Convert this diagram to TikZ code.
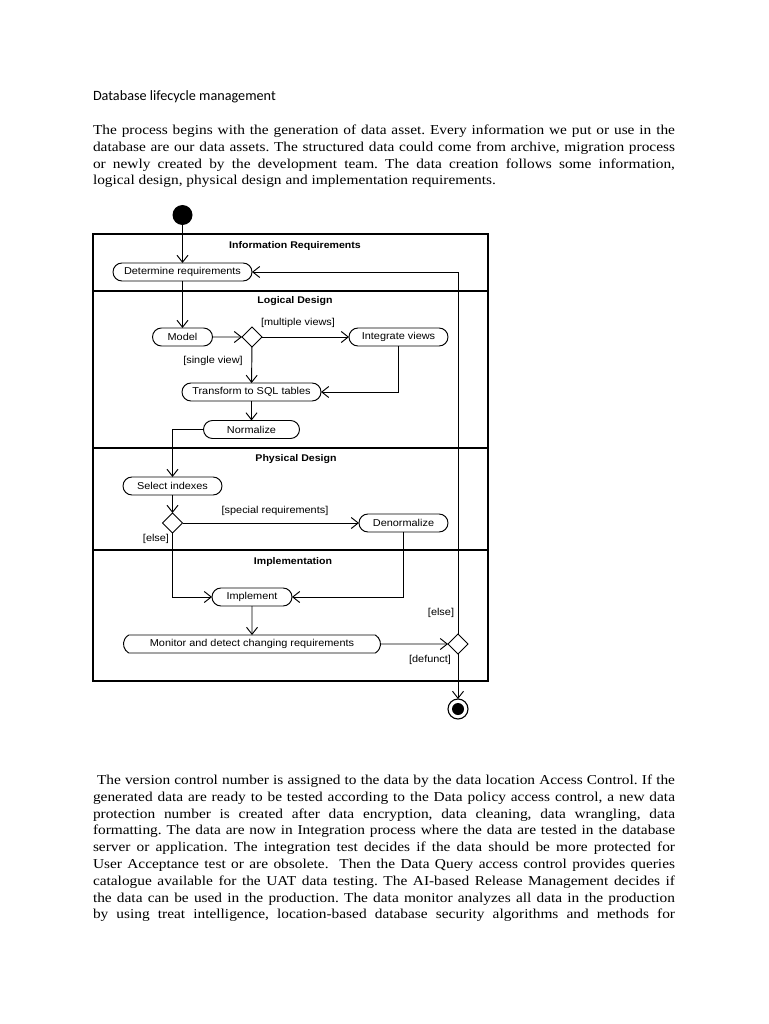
\documentclass[tikz,border=0pt]{standalone}
\usepackage{fontspec}
\setmainfont{Liberation Serif}[FakeStretch=1.13]
\newfontfamily\headfont{Carlito}
\newfontfamily\diagfont{Liberation Sans}[FakeStretch=1.09]
\usetikzlibrary{arrows.meta,shapes.geometric,shapes.misc}
\frenchspacing
\begin{document}
\begin{tikzpicture}[x=1pt,y=-1pt,
  every node/.style={inner sep=0pt, outer sep=0pt},
  bodyline/.style={anchor=base west, font=\fontsize{13.6}{16.5}\selectfont},
  act/.style={draw, rounded rectangle, minimum height=18pt, font=\diagfont\fontsize{10}{12}\selectfont, line width=0.95pt},
  dec/.style={draw, diamond, minimum size=20pt, line width=0.95pt},
  lbl/.style={font=\diagfont\fontsize{10}{12}\selectfont},
  lane/.style={font=\diagfont\bfseries\fontsize{9.7}{12}\selectfont},
  flow/.style={line width=0.95pt, -{Straight Barb[length=7pt,width=11pt]}},
  frameline/.style={line width=1.4pt}
]
\useasboundingbox (0,0) rectangle (768,1024);
\fill[white] (0,0) rectangle (768,1024);

% heading
\node[anchor=base west, font=\headfont\fontsize{14.2}{17}\selectfont] (head) at (93,100.5) {Database lifecycle management};

% paragraph 1
\foreach \t [count=\i] in {
 {The process begins with the generation of data asset. Every information we put or use in the},
 {database are our data assets. The structured data could come from archive, migration process},
 {or newly created by the development team. The data creation follows some information,}}
 \node[bodyline] (pa\i) at (93,{135+16.6*(\i-1)}) {\makebox[582pt][s]{\t}};
\node[bodyline] (pa4) at (93,184.8) {logical design, physical design and implementation requirements.};

% paragraph 2
\node[bodyline] (pb1) at (97,784.5) {\makebox[578pt][s]{The version control number is assigned to the data by the data location Access Control. If the}};
\foreach \t [count=\i from 2] in {
 {generated data are ready to be tested according to the Data policy access control, a new data},
 {protection number is created after data encryption, data cleaning, data wrangling, data},
 {formatting. The data are now in Integration process where the data are tested in the database},
 {server or application. The integration test decides if the data should be more protected for},
 {User Acceptance test or are obsolete.\ \ Then the Data Query access control provides queries},
 {catalogue available for the UAT data testing. The AI-based Release Management decides if},
 {the data can be used in the production. The data monitor analyzes all data in the production},
 {by using treat intelligence, location-based database security algorithms and methods for}}
 \node[bodyline] (pb\i) at (93,{784.5+16.8*(\i-1)}) {\makebox[582pt][s]{\t}};

% frame and lanes
\draw[frameline] (93,234) rectangle (488,681);
\draw[frameline] (93,291) -- (488,291);
\draw[frameline] (93,448) -- (488,448);
\draw[frameline] (93,550) -- (488,550);
\node[lane] (l1) at (295,245.5) {Information Requirements};
\node[lane] (l2) at (295,301.5) {Logical Design};
\node[lane] (l3) at (296,459) {Physical Design};
\node[lane] (l4) at (293,561.5) {Implementation};

% nodes
\node[circle, fill, minimum size=20pt] (start) at (182.5,215) {};
\node[act, minimum width=139pt] (det) at (182.5,272) {Determine requirements};
\node[act, minimum width=60pt] (model) at (182.5,337) {Model};
\node[dec] (d1) at (252,337) {};
\node[act, minimum width=99pt] (int) at (398.5,337) {Integrate views};
\node[act, minimum width=139pt] (sql) at (251.5,392) {Transform to SQL tables};
\node[act, minimum width=96pt] (norm) at (251.5,429.5) {Normalize};
\node[act, minimum width=99pt] (sel) at (172.5,486) {Select indexes};
\node[dec] (d2) at (172.5,523) {};
\node[act, minimum width=89pt] (den) at (403.5,523) {Denormalize};
\node[act, minimum width=80pt] (impl) at (252,597) {Implement};
\node[act, minimum width=257pt, rounded rectangle arc length=120] (mon) at (252,644) {Monitor and detect changing requirements};
\node[dec] (d3) at (458,644) {};
\node[circle, draw, line width=1.1pt, minimum size=20pt] (end) at (458,709) {};
\node[circle, fill, minimum size=12pt] (endin) at (end) {};

% labels
\node[lbl] (lmv) at (298,323) {[multiple views]};
\node[lbl] (lsv) at (213,361) {[single view]};
\node[lbl] (lsr) at (275,511) {[special requirements]};
\node[lbl] (le1) at (156,539) {[else]};
\node[lbl] (le2) at (441,613) {[else]};
\node[lbl] (ldf) at (430,660) {[defunct]};

% connectors
\draw[flow] (start) -- (det);
\draw[flow] (det) -- (model);
\draw[flow] (model) -- (d1);
\draw[flow] (d1) -- (int);
\draw[flow] (d1) -- (sql);
\draw[flow] (int.south) |- (sql.east);
\draw[flow] (sql) -- (norm);
\draw[flow] (norm.west) -| (sel.north);
\draw[flow] (sel) -- (d2);
\draw[flow] (d2) -- (den);
\draw[flow] (d2.south) |- (impl.west);
\draw[flow] (den.south) |- (impl.east);
\draw[flow] (impl) -- (mon);
\draw[flow] (mon) -- (d3);
\draw[flow] (d3.north) |- (det.east);
\draw[flow] (d3) -- (end);
\end{tikzpicture}
\end{document}
